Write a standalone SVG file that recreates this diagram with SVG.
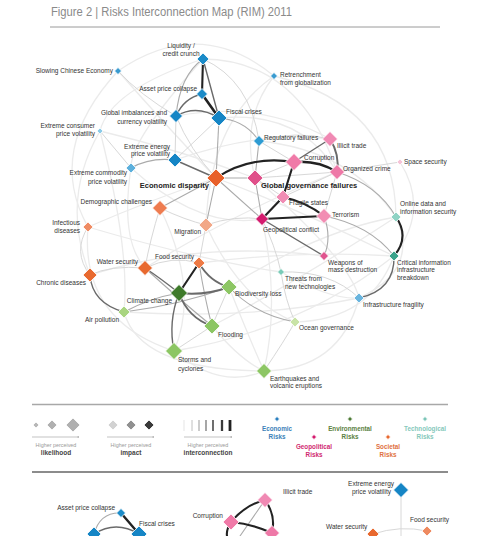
<svg xmlns="http://www.w3.org/2000/svg" width="480" height="536" viewBox="0 0 480 536">
<defs>
<marker id="ah" viewBox="0 0 6 6" refX="5" refY="3" markerWidth="4" markerHeight="4" orient="auto"><path d="M0,0 L6,3 L0,6" fill="none" stroke="#999" stroke-width="1"/></marker>
<style>
text{font-family:"Liberation Sans",Arial,sans-serif;font-size:6.5px;fill:#333}
.t{font-size:12.5px;fill:#8a8a8a}
.b{font-weight:bold;font-size:7.5px;fill:#222}
.e{text-anchor:end}
.m{text-anchor:middle}
.s{font-size:5.4px;fill:#999;text-anchor:middle}
.lb{font-size:6.5px;font-weight:bold;fill:#444;text-anchor:middle}
.cat{font-size:6.3px;font-weight:bold;text-anchor:middle}
path{fill:none;stroke-linecap:round}
.k0{stroke:#ebebeb;stroke-width:1.3}
.k1{stroke:#d8d8d8;stroke-width:1}
.k2{stroke:#ababab;stroke-width:1.1}
.k3{stroke:#6a6a6a;stroke-width:1.4}
.k4{stroke:#222;stroke-width:2.1}
polygon{stroke:#fff;stroke-width:0.8}
</style>
</defs>
<rect width="480" height="536" fill="#fff"/>
<text class="t" x="51" y="16" textLength="241" lengthAdjust="spacingAndGlyphs">Figure 2 | Risks Interconnection Map (RIM) 2011</text>
<line x1="50" y1="27" x2="440" y2="27" stroke="#9a9a9a" stroke-width="1"/>

<g id="connectors">
<path class="k0" d="M118,71 Q200,15 274,76"/>
<path class="k0" d="M118,71 Q45,150 88,227"/>
<path class="k0" d="M274,76 Q395,105 396,217"/>
<path class="k0" d="M100,131 Q60,200 90,275"/>
<path class="k0" d="M88,227 Q80,320 174,351"/>
<path class="k0" d="M124,312 Q140,370 264,371"/>
<path class="k0" d="M174,351 Q220,390 264,371"/>
<path class="k0" d="M264,371 Q340,370 359,298"/>
<path class="k0" d="M359,298 Q420,270 396,217"/>
<path class="k0" d="M295,322 Q370,320 394,256"/>
<path class="k0" d="M400,162 Q430,210 394,256"/>
<path class="k0" d="M203,59 Q300,60 337,172"/>
<path class="k0" d="M203,59 Q110,90 100,131"/>
<path class="k0" d="M118,71 Q170,130 216,178"/>
<path class="k0" d="M274,76 Q240,120 255,178"/>
<path class="k0" d="M274,76 Q210,120 206,225"/>
<path class="k0" d="M100,131 Q180,150 255,178"/>
<path class="k0" d="M131,168 Q200,230 262,219"/>
<path class="k0" d="M88,227 Q150,200 216,178"/>
<path class="k0" d="M88,227 Q200,260 281,272"/>
<path class="k0" d="M90,275 Q200,240 324,256"/>
<path class="k0" d="M145,268 Q240,210 337,172"/>
<path class="k0" d="M124,312 Q250,320 359,298"/>
<path class="k0" d="M174,351 Q300,330 394,256"/>
<path class="k0" d="M212,326 Q300,280 396,217"/>
<path class="k0" d="M264,371 Q280,300 262,219"/>
<path class="k0" d="M229,287 Q320,230 396,217"/>
<path class="k0" d="M160,208 Q200,290 174,351"/>
<path class="k0" d="M206,225 Q240,300 295,322"/>
<path class="k0" d="M259,141 Q350,150 396,217"/>
<path class="k0" d="M176,116 Q260,100 330,139"/>
<path class="k0" d="M219,118 Q300,110 337,172"/>
<path class="k0" d="M175,160 Q260,130 330,139"/>
<path class="k0" d="M131,168 Q120,240 145,268"/>
<path class="k0" d="M100,131 Q130,250 124,312"/>
<path class="k0" d="M203,59 Q130,140 131,168"/>
<path class="k0" d="M281,272 Q330,300 359,298"/>
<path class="k0" d="M199,263 Q300,250 394,256"/>
<path class="k0" d="M216,178 Q300,210 394,256"/>
<path class="k0" d="M255,178 Q350,260 359,298"/>
<path class="k0" d="M212,326 Q240,360 264,371"/>
<path class="k0" d="M229,287 Q250,340 264,371"/>

<path class="k1" d="M118,71 Q140,95 176,116"/>
<path class="k1" d="M100,131 L131,168"/>
<path class="k2" d="M131,168 Q150,157 175,160"/>
<path class="k2" d="M203,59 Q180,75 176,116"/>
<path class="k1" d="M203,59 Q250,80 259,141"/>
<path class="k1" d="M88,227 Q72,252 90,275"/>
<path class="k1" d="M337,172 L400,162"/>
<path class="k2" d="M337,172 Q378,185 396,217"/>
<path class="k2" d="M324,216 Q370,225 394,256"/>
<path class="k1" d="M281,272 Q285,300 295,322"/>
<path class="k2" d="M229,287 Q255,315 295,322"/>
<path class="k1" d="M281,272 Q330,270 359,298"/>
<path class="k1" d="M262,219 Q275,245 281,272"/>
<path class="k2" d="M124,312 Q180,305 229,287"/>
<path class="k2" d="M145,268 Q180,300 212,326"/>
<path class="k1" d="M206,225 L199,263"/>
<path class="k1" d="M160,208 Q185,220 206,225"/>
<path class="k1" d="M160,208 Q150,240 145,268"/>
<path class="k1" d="M206,225 Q235,215 262,219"/>
<path class="k2" d="M216,178 L160,208"/>
<path class="k2" d="M216,178 L206,225"/>
<path class="k2" d="M216,178 L255,178"/>
<path class="k2" d="M216,178 L262,219"/>
<path class="k2" d="M216,178 L219,118"/>
<path class="k3" d="M216,178 L175,160"/>
<path class="k1" d="M216,178 Q190,150 176,116"/>
<path class="k2" d="M259,141 L255,178"/>
<path class="k1" d="M259,141 L294,162"/>
<path class="k1" d="M259,141 Q295,130 330,139"/>
<path class="k2" d="M219,118 Q245,120 259,141"/>
<path class="k1" d="M255,178 L294,162"/>
<path class="k1" d="M255,178 L283,197"/>
<path class="k2" d="M255,178 L262,219"/>
<path class="k1" d="M255,178 Q300,175 337,172"/>
<path class="k3" d="M294,162 L330,139"/>
<path class="k1" d="M337,172 L283,197"/>
<path class="k1" d="M337,172 L324,216"/>
<path class="k3" d="M262,219 L324,256"/>
<path class="k2" d="M324,216 Q332,238 324,256"/>
<path class="k4" d="M283,197 Q306,202 324,216"/>
<path class="k4" d="M262,219 L324,216"/>
<path class="k4" d="M283,197 L262,219"/>
<path class="k4" d="M294,162 L283,197"/>
<path class="k4" d="M294,162 Q318,160 337,172" style="stroke-width:2.5"/>
<path class="k3" d="M330,139 Q340,155 337,172" style="stroke-width:1.9"/>
<path class="k4" d="M216,178 Q250,155 294,162"/>
<path class="k4" d="M396,217 Q410,237 394,256"/>
<path class="k3" d="M394,256 Q395,290 359,298"/>
<path class="k4" d="M199,263 L179,293"/>
<path class="k3" d="M199,263 Q210,282 229,287" style="stroke-width:1.8"/>
<path class="k2" d="M199,263 Q205,300 212,326"/>
<path class="k3" d="M179,293 Q205,296 229,287" style="stroke-width:1.9"/>
<path class="k3" d="M179,293 Q188,318 212,326" style="stroke-width:1.9"/>
<path class="k3" d="M179,293 Q168,322 174,351"/>
<path class="k3" d="M179,293 Q160,278 145,268"/>
<path class="k2" d="M179,293 Q150,298 124,312"/>
<path class="k3" d="M90,275 Q92,303 124,312"/>
<path class="k4" d="M203,59 L202,94"/>
<path class="k3" d="M203,59 L219,118"/>
<path class="k4" d="M202,94 L219,118" style="stroke-width:2.6"/>
<path class="k3" d="M202,94 Q184,98 176,116"/>
<path class="k3" d="M176,116 Q197,104 219,118"/>
<path class="k1" d="M176,116 L175,160"/>
<path class="k1" d="M219,118 L175,160"/>
<path class="k1" d="M145,268 Q172,255 199,263"/>
<path class="k1" d="M229,287 L212,326"/>
<path class="k1" d="M174,351 L212,326"/>
<path class="k1" d="M264,371 Q285,340 295,322"/>
<path class="k1" d="M90,275 Q110,265 145,268"/>
</g>

<g id="n-liquidity"><polygon points="203,53 209,59 203,65 197,59" fill="#1b8bc8"/><text class="m" x="181" y="48">Liquidity /</text><text class="m" x="181" y="56">credit crunch</text></g>
<g id="n-chinese"><polygon points="118,67.5 121.5,71 118,74.5 114.5,71" fill="#3a9bd0"/><text class="e" x="113" y="73">Slowing Chinese Economy</text></g>
<g id="n-retrenchment"><polygon points="274,72.5 277.5,76 274,79.5 270.5,76" fill="#3a9bd0"/><text x="280" y="77">Retrenchment</text><text x="280" y="85">from globalization</text></g>
<g id="n-asset"><polygon points="202,88.5 207.5,94 202,99.5 196.5,94" fill="#1b8bc8"/><text class="e" x="197" y="91">Asset price collapse</text></g>
<g id="n-fiscal"><polygon points="219,110 227,118 219,126 211,118" fill="#1585c5"/><text x="226" y="114">Fiscal crises</text></g>
<g id="n-imbalances"><polygon points="176,109.5 182.5,116 176,122.5 169.5,116" fill="#1585c5"/><text class="e" x="167" y="115">Global imbalances and</text><text class="e" x="167" y="124">currency volatility</text></g>
<g id="n-consumer"><polygon points="100,128 103,131 100,134 97,131" fill="#8ccbe8"/><text class="e" x="95" y="128">Extreme consumer</text><text class="e" x="95" y="135.5">price volatility</text></g>
<g id="n-energy"><polygon points="175,153 182,160 175,167 168,160" fill="#1585c5"/><text class="e" x="170" y="148.5">Extreme energy</text><text class="e" x="170" y="156">price volatility</text></g>
<g id="n-commodity"><polygon points="131,163 136,168 131,173 126,168" fill="#5db0dc"/><text class="e" x="127" y="175">Extreme commodity</text><text class="e" x="127" y="183.5">price volatility</text></g>
<g id="n-regulatory"><polygon points="259,135.5 264.5,141 259,146.5 253.5,141" fill="#2d9bd2"/><text x="264" y="139.5">Regulatory failures</text></g>
<g id="n-infrastructure"><polygon points="359,293 364,298 359,303 354,298" fill="#6ab5de"/><text x="363" y="307">Infrastructure fragility</text></g>

<g id="n-disparity"><polygon points="216,169 225,178 216,187 207,178" fill="#e8602a"/><text class="b e" x="209" y="187.5">Economic disparity</text></g>
<g id="n-demographic"><polygon points="160,200.5 167.5,208 160,215.5 152.5,208" fill="#ee7c50"/><text class="e" x="152" y="203.5">Demographic challenges</text></g>
<g id="n-migration"><polygon points="206,218 213,225 206,232 199,225" fill="#f2a888"/><text class="e" x="201" y="234">Migration</text></g>
<g id="n-infectious"><polygon points="88,222 93,227 88,232 83,227" fill="#ef8c64"/><text class="e" x="80" y="224.5">Infectious</text><text class="e" x="80" y="232.5">diseases</text></g>
<g id="n-water"><polygon points="145,260.5 152.5,268 145,275.5 137.5,268" fill="#e8692f"/><text class="e" x="138" y="263.5">Water security</text></g>
<g id="n-food"><polygon points="199,257 205,263 199,269 193,263" fill="#ee7a45"/><text class="e" x="194" y="258.5">Food security</text></g>
<g id="n-chronic"><polygon points="90,268 97,275 90,282 83,275" fill="#e86a30"/><text class="e" x="86" y="284.5">Chronic diseases</text></g>

<g id="n-climate"><polygon points="179,284.5 187.5,293 179,301.5 170.5,293" fill="#3e7a2a"/><text class="e" x="172" y="303">Climate change</text></g>
<g id="n-biodiversity"><polygon points="229,279 237,287 229,295 221,287" fill="#8dc664"/><text x="235" y="296">Biodiversity loss</text></g>
<g id="n-air"><polygon points="124,306 130,312 124,318 118,312" fill="#a9d580"/><text class="e" x="119" y="322">Air pollution</text></g>
<g id="n-flooding"><polygon points="212,318 220,326 212,334 204,326" fill="#8cc663"/><text x="218" y="336.5">Flooding</text></g>
<g id="n-storms"><polygon points="174,342.5 182.5,351 174,359.5 165.5,351" fill="#8cc663"/><text x="178" y="362">Storms and</text><text x="178" y="370.5">cyclones</text></g>
<g id="n-ocean"><polygon points="295,317 300,322 295,327 290,322" fill="#c9e3a6"/><text x="299" y="329.5">Ocean governance</text></g>
<g id="n-earthquakes"><polygon points="264,363.5 271.5,371 264,378.5 256.5,371" fill="#8dc664"/><text x="270" y="380.5">Earthquakes and</text><text x="270" y="388">volcanic eruptions</text></g>

<g id="n-governance"><polygon points="255,170 263,178 255,186 247,178" fill="#e0508a"/><text class="b" x="261" y="188">Global governance failures</text></g>
<g id="n-corruption"><polygon points="294,153.5 302.5,162 294,170.5 285.5,162" fill="#f07aa8"/><text x="304" y="159.5">Corruption</text></g>
<g id="n-illicit"><polygon points="330,131.5 337.5,139 330,146.5 322.5,139" fill="#f089b3"/><text x="337" y="147.5">Illicit trade</text></g>
<g id="n-organized"><polygon points="337,164.5 344.5,172 337,179.5 329.5,172" fill="#ee78a7"/><text x="343" y="171">Organized crime</text></g>
<g id="n-space"><polygon points="400,159 403,162 400,165 397,162" fill="#f6c4d8"/><text x="404" y="164">Space security</text></g>
<g id="n-fragile"><polygon points="283,190 290,197 283,204 276,197" fill="#f08cb4"/><text x="289" y="205">Fragile states</text></g>
<g id="n-terrorism"><polygon points="324,208.5 331.5,216 324,223.5 316.5,216" fill="#f28db3"/><text x="332" y="216.5">Terrorism</text></g>
<g id="n-geopolitical"><polygon points="262,212.5 268.5,219 262,225.5 255.5,219" fill="#d41b6e"/><text x="263" y="231.5">Geopolitical conflict</text></g>
<g id="n-wmd"><polygon points="324,251.5 328.5,256 324,260.5 319.5,256" fill="#e0558f"/><text x="328" y="264.5">Weapons of</text><text x="328" y="272">mass destruction</text></g>

<g id="n-online"><polygon points="396,212 401,217 396,222 391,217" fill="#8fd3c4"/><text x="400" y="205.5">Online data and</text><text x="400" y="213.5">information security</text></g>
<g id="n-critical"><polygon points="394,251 399,256 394,261 389,256" fill="#3aa38b"/><text x="397" y="264.5">Critical information</text><text x="397" y="272">infrastructure</text><text x="397" y="280">breakdown</text></g>
<g id="n-threats"><polygon points="281,268.5 284.5,272 281,275.5 277.5,272" fill="#7acbb8"/><text x="285" y="280.5">Threats from</text><text x="285" y="289">new technologies</text></g>

<g id="legend">
<line x1="32" y1="404.5" x2="448" y2="404.5" stroke="#a8a8a8" stroke-width="1.4"/>
<polygon points="36,422 39,425 36,428 33,425" fill="#b8b8b8"/>
<polygon points="52,420 57,425 52,430 47,425" fill="#b0b0b0"/>
<polygon points="73,418 80,425 73,432 66,425" fill="#b0b0b0"/>
<line x1="32" y1="437" x2="79" y2="437" stroke="#aaa" stroke-width="0.7" marker-end="url(#ah)"/>
<text class="s" x="56" y="447">Higher perceived</text>
<text class="lb" x="56" y="455">likelihood</text>
<polygon points="113,420 118,425 113,430 108,425" fill="#d2d2d2"/>
<polygon points="131,420 136,425 131,430 126,425" fill="#909090"/>
<polygon points="149,420 154,425 149,430 144,425" fill="#3a3a3a"/>
<line x1="107" y1="437" x2="154" y2="437" stroke="#aaa" stroke-width="0.7" marker-end="url(#ah)"/>
<text class="s" x="131" y="447">Higher perceived</text>
<text class="lb" x="131" y="455">impact</text>
<line x1="184" y1="420" x2="184" y2="431" stroke="#c8c8c8" stroke-width="0.5"/>
<line x1="192" y1="420" x2="192" y2="431" stroke="#b0b0b0" stroke-width="0.8"/>
<line x1="199" y1="420" x2="199" y2="431" stroke="#999" stroke-width="1"/>
<line x1="206" y1="420" x2="206" y2="431" stroke="#777" stroke-width="1.3"/>
<line x1="213" y1="420" x2="213" y2="431" stroke="#555" stroke-width="1.7"/>
<line x1="222" y1="420" x2="222" y2="431" stroke="#3a3a3a" stroke-width="2.3"/>
<line x1="230" y1="420" x2="230" y2="431" stroke="#222" stroke-width="2.8"/>
<line x1="184" y1="437" x2="232" y2="437" stroke="#aaa" stroke-width="0.7" marker-end="url(#ah)"/>
<text class="s" x="208" y="447">Higher perceived</text>
<text class="lb" x="208" y="455">interconnection</text>

<polygon points="277,416.5 279.5,419 277,421.5 274.5,419" fill="#2a7fbf"/>
<text class="cat" x="277" y="431" fill="#3b7fb8" style="fill:#3b7fb8">Economic</text>
<text class="cat" x="277" y="439" style="fill:#3b7fb8">Risks</text>
<polygon points="314,434.5 316.5,437 314,439.5 311.5,437" fill="#d41b6e"/>
<text class="cat" x="314" y="449" style="fill:#d0296f">Geopolitical</text>
<text class="cat" x="314" y="457" style="fill:#d0296f">Risks</text>
<polygon points="350,416.5 352.5,419 350,421.5 347.5,419" fill="#4d7a35"/>
<text class="cat" x="350" y="431" style="fill:#5a8040">Environmental</text>
<text class="cat" x="350" y="439" style="fill:#5a8040">Risks</text>
<polygon points="388,434.5 390.5,437 388,439.5 385.5,437" fill="#e8692f"/>
<text class="cat" x="388" y="449" style="fill:#e07040">Societal</text>
<text class="cat" x="388" y="457" style="fill:#e07040">Risks</text>
<polygon points="425,416.5 427.5,419 425,421.5 422.5,419" fill="#7cc5b8"/>
<text class="cat" x="425" y="431" style="fill:#85c8bb">Technological</text>
<text class="cat" x="425" y="439" style="fill:#85c8bb">Risks</text>
<line x1="32" y1="472" x2="448" y2="472" stroke="#666" stroke-width="1.4"/>
</g>

<g id="bottom-connectors">
<path class="k2" d="M94,534 Q100,512 121,513"/>
<path class="k3" d="M94,534 Q116,520 139,534"/>
<path class="k4" d="M121,513 L139,534" style="stroke-width:2.4"/>
<path class="k2" d="M265,500 L240,536"/>
<path class="k4" d="M231,522 Q245,505 265,500"/>
<path class="k4" d="M265,500 Q276,515 272,533"/>
<path class="k4" d="M231,522 Q252,524 272,533"/>
<path class="k4" d="M231,522 Q226,530 227,536"/>
<path class="k1" d="M401,497 L401,536"/>
<path class="k1" d="M373,534 Q400,525 427,531"/>
</g>
<g id="b-asset"><polygon points="121,508.5 125.5,513 121,517.5 116.5,513" fill="#1b8bc8"/><text class="e" x="115" y="510">Asset price collapse</text></g>
<g id="b-fiscal"><polygon points="139,526 147,534 139,542 131,534" fill="#1585c5"/><text x="139" y="526">Fiscal crises</text></g>
<g id="b-imbalances"><polygon points="94,527 101,534 94,541 87,534" fill="#1585c5"/></g>
<g id="b-illicit"><polygon points="265,492.5 272.5,500 265,507.5 257.5,500" fill="#f089b3"/><text x="283" y="494">Illicit trade</text></g>
<g id="b-corruption"><polygon points="231,514 239,522 231,530 223,522" fill="#f07aa8"/><text class="e" x="223" y="518">Corruption</text></g>
<g id="b-organized"><polygon points="272,525.5 279.5,533 272,540.5 264.5,533" fill="#ee78a7"/></g>
<g id="b-energy"><polygon points="401,482.5 408.5,490 401,497.5 393.5,490" fill="#1585c5"/><text class="e" x="394" y="486">Extreme energy</text><text class="e" x="391" y="494">price volatility</text></g>
<g id="b-water"><polygon points="373,528 379,534 373,540 367,534" fill="#e8692f"/><text x="326" y="529">Water security</text></g>
<g id="b-food"><polygon points="427,526 432,531 427,536 422,531" fill="#ee8a60"/><text x="410" y="522">Food security</text></g>
</svg>
